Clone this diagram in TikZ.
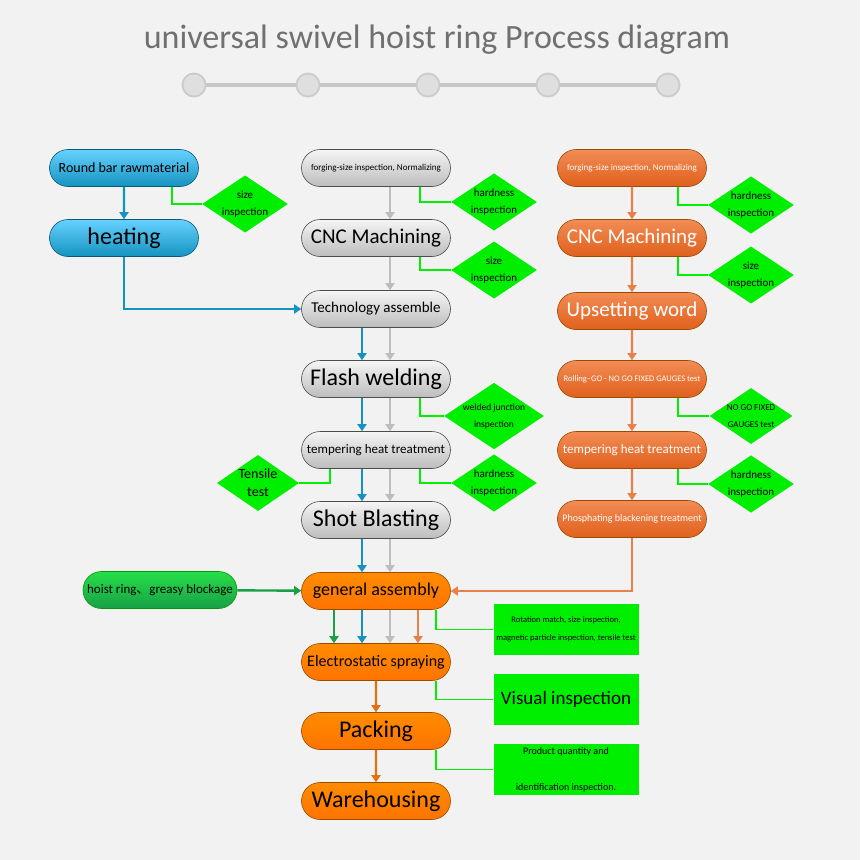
\documentclass[tikz,border=0pt]{standalone}
\usepackage{fontspec}
\setmainfont{Carlito}
\newfontfamily\cjkf{Noto Sans CJK SC}
\usetikzlibrary{shapes.geometric,shapes.misc,arrows.meta}
\definecolor{bg}{HTML}{F2F2F2}
\definecolor{lgreen}{HTML}{00EE00}
\definecolor{cblue}{HTML}{1593C0}
\definecolor{cgray}{HTML}{BDBDBD}
\definecolor{cor}{HTML}{E8804A}
\definecolor{cor2}{HTML}{E07010}
\definecolor{cgreen}{HTML}{18A048}
\definecolor{otop}{HTML}{F28C55}
\definecolor{obot}{HTML}{E0601C}
\definecolor{ttl}{HTML}{707070}
\tikzset{
 pill/.style={rounded rectangle,minimum width=149pt,minimum height=37pt,inner sep=0pt,draw=#1!60!black,line width=0.6pt},
 bluep/.style={pill=cblue,top color=cyan!70!blue!60,bottom color=cblue},
 grayp/.style={pill=gray,top color=white!92!gray,bottom color=cgray},
 orp/.style={pill=orange,top color=otop,bottom color=obot,text=white},
 orb/.style={pill=orange,top color=orange!90!yellow,bottom color=orange!90!red},
 grp/.style={pill=green,top color=green!70!teal!85,bottom color=cgreen},
 dia/.style={diamond,fill=lgreen,minimum width=82pt,minimum height=56pt,inner sep=0pt,aspect=1.5,align=center,font=\fontsize{11}{17}\selectfont},
 box/.style={fill=lgreen,minimum width=145pt,minimum height=51pt,inner sep=0pt,align=center},
 gl/.style={lgreen,line width=1.8pt},
 ar/.style={line width=2.4pt,-{Triangle[width=9pt,length=7pt]}},
 big/.style={font=\fontsize{24}{24}\selectfont},
 med/.style={font=\fontsize{15}{15}\selectfont},
 sm/.style={font=\fontsize{11}{11}\selectfont},
 xs/.style={font=\fontsize{9}{9}\selectfont},
}
\begin{document}
\begin{tikzpicture}[x=1pt,y=-1pt]
\fill[bg] (0,0) rectangle (860,860);
\node (title) at (437,40) {\color{ttl}\fontsize{34}{34}\selectfont universal swivel hoist ring Process diagram};
\coordinate (s1) at (194,85); \coordinate (s5) at (668,85);
\draw[line width=4pt,gray!45] (s1) -- (s5);
\foreach \x in {194,308,428,548,668}{\fill[gray!40] (\x,85) circle (12.5);\fill[gray!25] (\x,85) circle (10.5);}
% blue
\node[bluep,sm,font=\fontsize{14}{14}\selectfont] (rb) at (124,168) {Round bar rawmaterial};
\node[bluep,big] (heat) at (124,238) {heating};
% gray column
\node[grayp,xs] (f1) at (376,168) {forging-size inspection, Normalizing};
\node[grayp,font=\fontsize{21}{21}\selectfont] (cnc1) at (376,238) {CNC Machining};
\node[grayp,med] (tech) at (376,309) {Technology assemble};
\node[grayp,big] (flash) at (376,379) {Flash welding};
\node[grayp,font=\fontsize{13}{13}\selectfont] (temp1) at (376,450) {tempering heat treatment};
\node[grayp,big] (shot) at (376,520) {Shot Blasting};
% orange column
\node[orp,xs] (f2) at (632,168) {forging-size inspection, Normalizing};
\node[orp,font=\fontsize{21}{21}\selectfont] (cnc2) at (632,238) {CNC Machining};
\node[orp,font=\fontsize{21}{21}\selectfont] (ups) at (632,311) {Upsetting word};
\node[orp,font=\fontsize{8.5}{9}\selectfont] (roll) at (632,379) {Rolling--GO - NO GO FIXED GAUGES test};
\node[orp,font=\fontsize{13}{13}\selectfont] (temp2) at (632,450) {tempering heat treatment};
\node[orp,font=\fontsize{10}{10}\selectfont] (phos) at (632,519) {Phosphating blackening treatment};
% bottom
\node[orb,font=\fontsize{18}{18}\selectfont] (gen) at (376,591) {general assembly};
\node[orb,font=\fontsize{16}{16}\selectfont] (elec) at (376,662) {Electrostatic spraying};
\node[orb,big] (pack) at (376,731) {Packing};
\node[orb,big] (ware) at (376,801) {Warehousing};
\node[grp,font=\fontsize{13}{13}\selectfont,minimum width=154pt] (hoist) at (160,590) {hoist ring{\cjkf 、}greasy blockage};
% diamonds
\node[dia] (d0) at (245,204) {size\\inspection};
\node[dia] (d1) at (494,202) {hardness\\inspection};
\node[dia] (d2) at (494,270) {size\\inspection};
\node[dia,font=\fontsize{9.5}{17}\selectfont] (d3) at (494,416) {welded junction\\inspection};
\node[dia] (d4) at (494,483) {hardness\\inspection};
\node[dia,font=\fontsize{14}{18}\selectfont] (d5) at (258,483) {Tensile\\test};
\node[dia] (e1) at (751,205) {hardness\\inspection};
\node[dia] (e2) at (751,275) {size\\inspection};
\node[dia,font=\fontsize{9}{17}\selectfont] (e3) at (751,416) {NO GO FIXED\\GAUGES test};
\node[dia] (e4) at (751,484) {hardness\\inspection};
% boxes
\node[box,font=\fontsize{8.5}{18}\selectfont] (b1) at (566,629.5) {Rotation match, size inspection,\\magnetic particle inspection, tensile test};
\node[box,font=\fontsize{19}{19}\selectfont] (b2) at (566,699.5) {Visual inspection};
\node[box,font=\fontsize{10}{36}\selectfont] (b3) at (566,769.5) {Product quantity and\\identification inspection.};
% green connectors
\draw[gl] (rb.south -| 172,0) |- (d0.west);
\draw[gl] (f1.south -| 420,0) |- (d1.west);
\draw[gl] (cnc1.south -| 420,0) |- (d2.west);
\draw[gl] (flash.south -| 420,0) |- (d3.west);
\draw[gl] (temp1.south -| 420,0) |- (d4.west);
\draw[gl] (temp1.south -| 330,0) |- (d5.east);
\draw[gl] (f2.south -| 678,0) |- (e1.west);
\draw[gl] (cnc2.south -| 678,0) |- (e2.west);
\draw[gl] (roll.south -| 678,0) |- (e3.west);
\draw[gl] (temp2.south -| 678,0) |- (e4.west);
\draw[gl] (gen.south -| 436,0) |- (b1.west);
\draw[gl] (elec.south -| 436,0) |- (b2.west);
\draw[gl] (pack.south -| 436,0) |- (b3.west);
% arrows
\draw[ar,cblue] (rb) -- (heat);
\draw[ar,cblue] (heat.south) |- (tech.west);
\foreach \a/\b in {f1/cnc1,cnc1/tech}{\draw[ar,cgray] (\a.south -| 390,0) -- (\b.north -| 390,0);}
\foreach \a/\b in {tech/flash,flash/temp1,temp1/shot,shot/gen}{
 \draw[ar,cgray] (\a.south -| 390,0) -- (\b.north -| 390,0);
 \draw[ar,cblue] (\a.south -| 362,0) -- (\b.north -| 362,0);}
\foreach \a/\b in {f2/cnc2,cnc2/ups,ups/roll,roll/temp2,temp2/phos}{\draw[ar,cor] (\a) -- (\b);}
\draw[ar,cor] (phos.south) |- (gen.east);
\draw[ar,cgreen] (hoist) -- (gen);
\draw[ar,cgreen] (gen.south -| 334,0) -- (elec.north -| 334,0);
\draw[ar,cblue] (gen.south -| 362,0) -- (elec.north -| 362,0);
\draw[ar,cgray] (gen.south -| 390,0) -- (elec.north -| 390,0);
\draw[ar,cor] (gen.south -| 418,0) -- (elec.north -| 418,0);
\draw[ar,cor2] (elec) -- (pack);
\draw[ar,cor2] (pack) -- (ware);
\end{tikzpicture}
\end{document}
